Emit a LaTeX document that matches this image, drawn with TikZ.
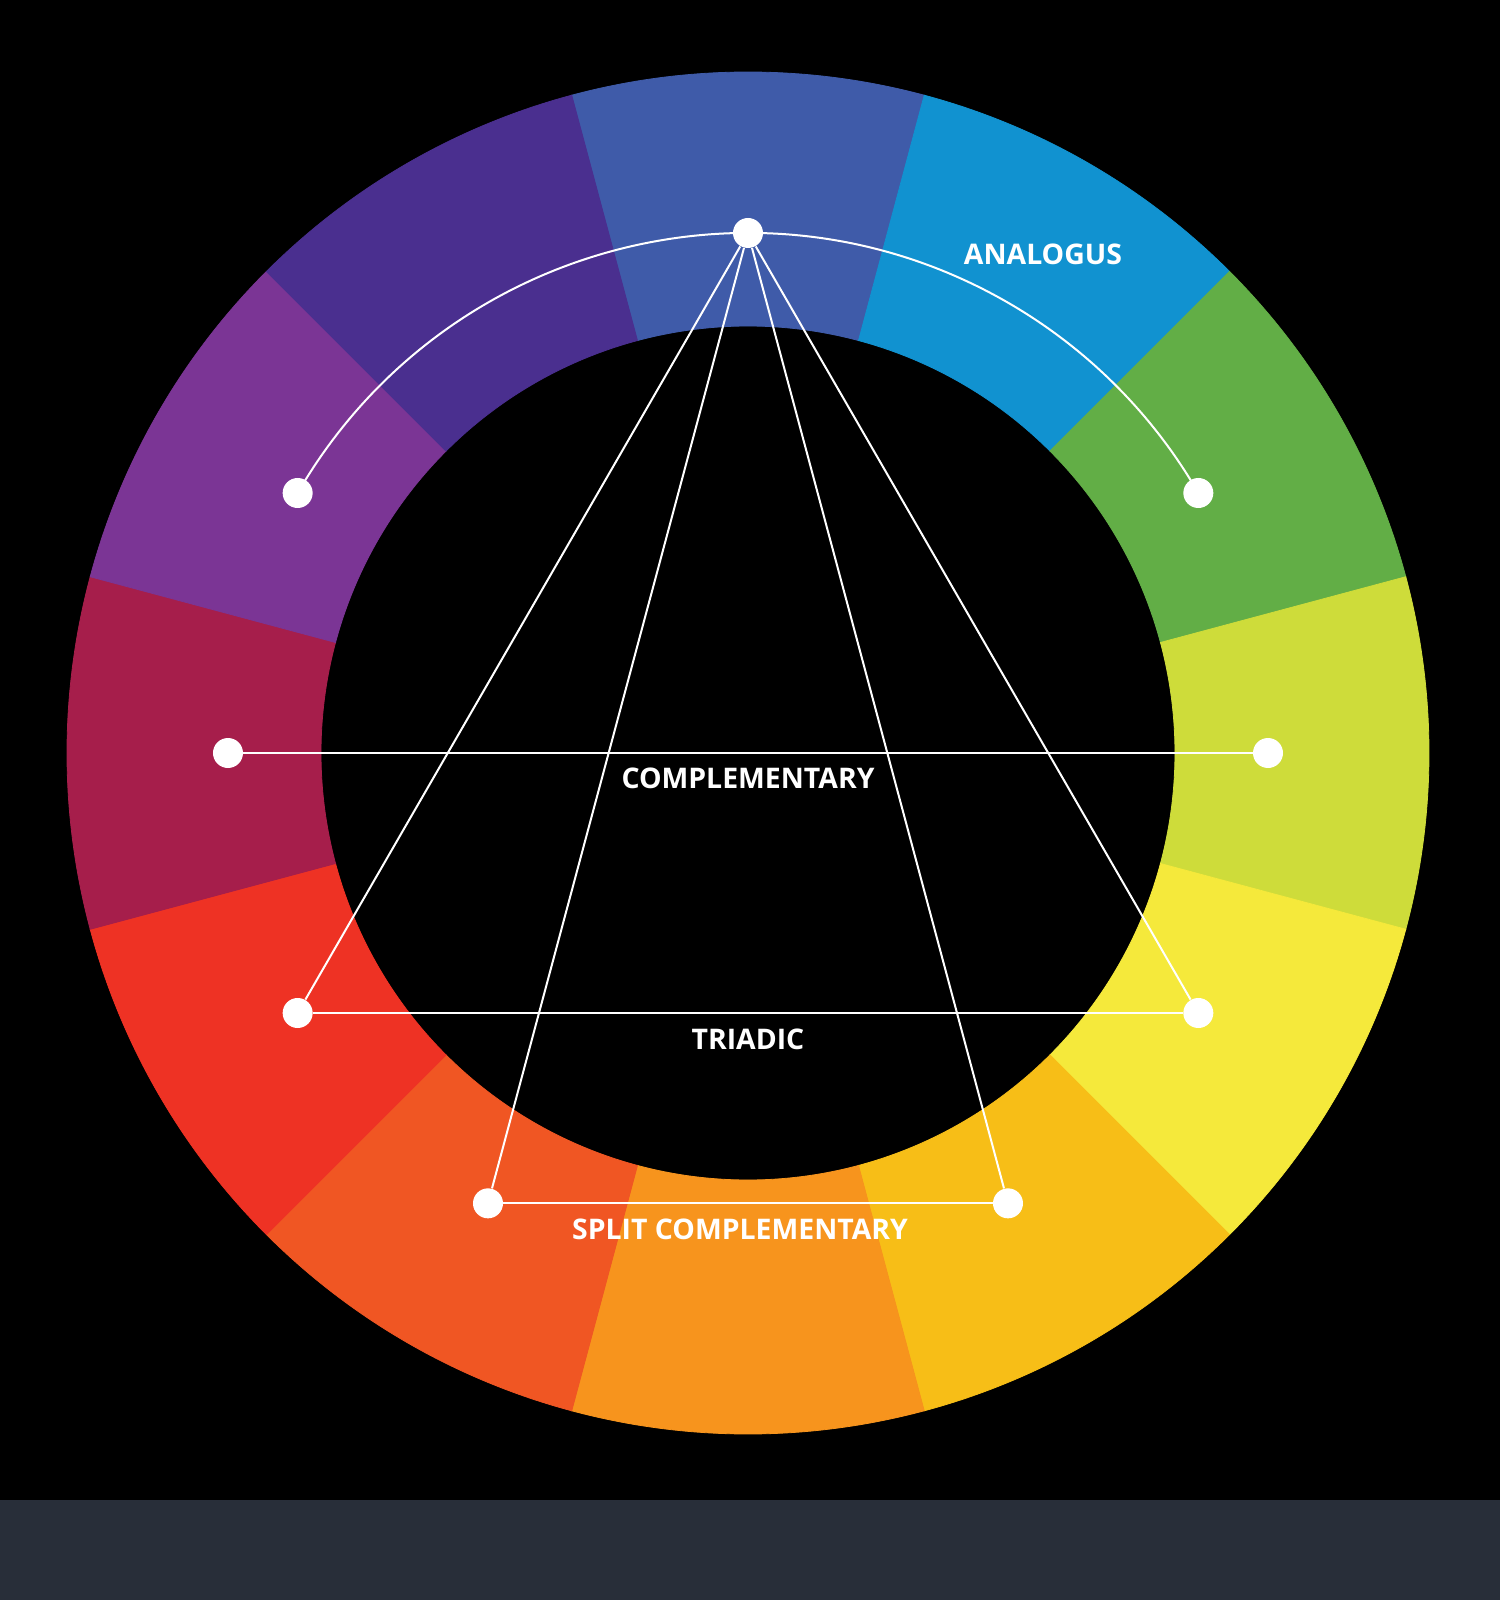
\documentclass[tikz,border=0pt]{standalone}
\usepackage{fontspec}
\setsansfont{Open Sans}
\definecolor{segA}{HTML}{3F5BA9}
\definecolor{segB}{HTML}{1192D0}
\definecolor{segC}{HTML}{62AE46}
\definecolor{segD}{HTML}{CEDC3A}
\definecolor{segE}{HTML}{F5E93B}
\definecolor{segF}{HTML}{F7BE17}
\definecolor{segG}{HTML}{F7941D}
\definecolor{segH}{HTML}{F05623}
\definecolor{segI}{HTML}{EE3224}
\definecolor{segJ}{HTML}{A61E4B}
\definecolor{segK}{HTML}{7B3595}
\definecolor{segL}{HTML}{4A2F8F}
\definecolor{barcol}{HTML}{282E39}

\tikzset{every picture/.style={line width=0.75pt}}
\tikzset{
  dot/.style={circle, fill=white, inner sep=0pt, minimum size=22.5pt},
  link/.style={draw=white, line width=1.5pt},
  lbl/.style={text=white, font=\sffamily\bfseries\fontsize{21.3}{24}\selectfont}
}

\begin{document}
\begin{tikzpicture}[x=0.75pt,y=0.75pt]
%set diagram: origin at the wheel centre
\useasboundingbox (-748,-847) rectangle (752,753);
\fill[black] (-748,-847) rectangle (752,753);
%Bottom bar
\fill[barcol] (-748,-847) rectangle (752,-747);

%Shape: Ring of 12 segments
\foreach \a/\c in {90/segA,60/segB,30/segC,0/segD,-30/segE,-60/segF,-90/segG,-120/segH,-150/segI,180/segJ,150/segK,120/segL}
  \filldraw[fill=\c, draw=\c, line width=0.6] (\a-15:427) arc[start angle=\a-15, end angle=\a+15, radius=427]
    -- (\a+15:681) arc[start angle=\a+15, end angle=\a-15, radius=681] -- cycle;

%Points
\node[dot] (p90)  at (90:520)  {};
\node[dot] (p150) at (150:520) {};
\node[dot] (p30)  at (30:520)  {};
\node[dot] (p180) at (180:520) {};
\node[dot] (p0)   at (0:520)   {};
\node[dot] (p210) at (210:520) {};
\node[dot] (p330) at (330:520) {};
\node[dot] (p240) at (240:520) {};
\node[dot] (p300) at (300:520) {};

%Arc: analogus
\draw[link] (150:520) arc[start angle=150, end angle=30, radius=520];
%Straight Lines
\draw[link] (p90) -- (p210);
\draw[link] (p90) -- (p330);
\draw[link] (p90) -- (p240);
\draw[link] (p90) -- (p300);
\draw[link] (p180) -- (p0);
\draw[link] (p210) -- (p330);
\draw[link] (p240) -- (p300);

% Text Node
\node[lbl] (tAna) at (295,499) {ANALOGUS};
% Text Node
\node[lbl] (tComp) at (0,-25) {COMPLEMENTARY};
% Text Node
\node[lbl] (tTri) at (0,-286) {TRIADIC};
% Text Node
\node[lbl] (tSplit) at (-8,-476) {SPLIT COMPLEMENTARY};

\end{tikzpicture}
\end{document}
